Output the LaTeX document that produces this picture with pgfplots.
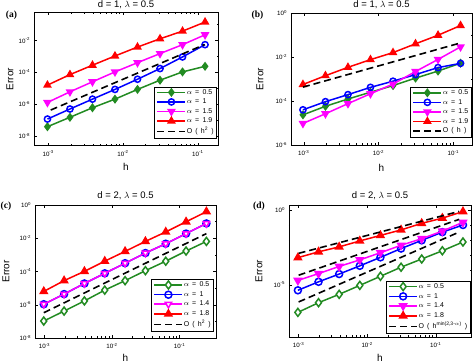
\documentclass[border=0pt]{standalone}
\usepackage{pgfplots}
\pgfplotsset{compat=1.18}
\usepackage{fontspec}
\setmainfont{Liberation Sans}
\newfontfamily\labelfont{Liberation Serif}
\definecolor{mgreen}{RGB}{34,139,34}
\definecolor{mmag}{RGB}{255,0,255}
\definecolor{mblue}{RGB}{0,0,255}
\definecolor{mred}{RGB}{255,0,0}
\newcommand{\ls}{\hspace{3.2pt}}
\tikzset{
  titlef/.style={font=\fontsize{9.5}{10}\selectfont},
  labf/.style={font=\fontsize{10}{11}\selectfont},
  panelf/.style={font=\labelfont\bfseries\fontsize{9.5}{10}\selectfont},
}
\pgfplotsset{
  myax/.style={
    scale only axis, clip mode=individual,
    anchor=south west,
    tick align=inside, major tick length=2.8pt, minor tick length=1.5pt,
    every tick/.style={black, line width=0.35pt},
    axis line style={line width=0.5pt, black},
    tick label style={font=\fontsize{6.2}{7}\selectfont},
    xtick={1e-3,1e-2,1e-1},
    xticklabels={10\textsuperscript{-3},10\textsuperscript{-2},10\textsuperscript{-1}},
    xticklabel style={yshift=-1.5pt},
    yticklabel style={xshift=-0.5pt},
    legend cell align=left,
    legend style={font=\fontsize{7}{7}\selectfont, draw=black, line width=0.4pt,
      inner xsep=2pt, inner ysep=1.8pt, row sep=2pt, anchor=south east,
      nodes={inner sep=0.6pt}},
    every axis plot post/.append style={
      legend image code/.code={\draw[mark repeat=2,mark phase=2] plot coordinates {(0pt,0pt) (14pt,0pt) (28pt,0pt)};}},
  },
  gfill/.style={color=mgreen, line width=1.5pt, mark=diamond*, mark size=3.4pt, mark options={solid, fill=mgreen}},
  gopen/.style={color=mgreen, line width=1.5pt, mark=diamond*, mark size=4pt, mark options={solid, fill=white}},
  bline/.style={color=mblue, line width=1.5pt, mark=o, mark size=3.1pt, mark options={solid, fill=white}},
  mline/.style={color=mmag, line width=1.5pt, mark=triangle*, mark size=3.6pt, mark options={solid, fill=mmag, rotate=180}},
  rline/.style={color=mred, line width=1.5pt, mark=triangle*, mark size=3.6pt, mark options={solid, fill=mred}},
  dline/.style={color=black, line width=1.6pt, dash pattern=on 7pt off 4pt, mark=none},
}
\begin{document}
\begin{tikzpicture}
\useasboundingbox (0,0) rectangle (474pt,363pt);

% ---------------- (a)
\begin{loglogaxis}[myax, at={(34pt,217.5pt)}, width=184pt, height=133pt,
  xmin=6.457e-4, xmax=0.1862, ymin=2.512e-9, ymax=0.5623,
  ytick={1e-8,1e-6,1e-4,1e-2},
  yticklabels={10\textsuperscript{-8},10\textsuperscript{-6},10\textsuperscript{-4},10\textsuperscript{-2}},
  minor ytick={1e-7,1e-5,1e-3,1e-1},
  legend style={at={(1,0)}, xshift=-1.5pt, yshift=7.5pt}]
\addplot[gfill] coordinates {(0.0009765625,3.80e-8) (0.001953125,1.479e-7) (0.00390625,5.89e-7) (0.0078125,2.042e-6) (0.015625,8.32e-6) (0.03125,3.162e-5) (0.0625,1.047e-4) (0.125,2.344e-4)};
\addlegendentry{$\alpha$\ls=\ls0.5}
\addplot[bline] coordinates {(0.0009765625,1.148e-7) (0.001953125,4.90e-7) (0.00390625,2.042e-6) (0.0078125,8.32e-6) (0.015625,3.63e-5) (0.03125,1.698e-4) (0.0625,9.12e-4) (0.125,5.37e-3)};
\addlegendentry{$\alpha$\ls=\ls1}
\addplot[mline] coordinates {(0.0009765625,1.259e-6) (0.001953125,5.89e-6) (0.00390625,2.512e-5) (0.0078125,1.047e-4) (0.015625,3.98e-4) (0.03125,1.479e-3) (0.0625,5.37e-3) (0.125,2.239e-2)};
\addlegendentry{$\alpha$\ls=\ls1.5}
\addplot[rline] coordinates {(0.0009765625,1.549e-5) (0.001953125,7.08e-5) (0.00390625,2.754e-4) (0.0078125,1.047e-3) (0.015625,3.80e-3) (0.03125,1.259e-2) (0.0625,3.80e-2) (0.125,0.1413)};
\addlegendentry{$\alpha$\ls=\ls1.9}
\addplot[dline] coordinates {(0.00108,4.22e-7) (0.1236,5.5e-3)};
\addlegendentry{O\ls(\ls h\textsuperscript{2}\ls)}
\node[titlef] at ([yshift=8pt]rel axis cs:0.5,1) {d = 1, $\lambda$ = 0.5};
\node[panelf] at ([xshift=-22.5pt,yshift=-2.5pt]rel axis cs:0,1) {(a)};
\node[labf, rotate=90] at ([xshift=-24pt]rel axis cs:0,0.5) {Error};
\node[labf] at ([yshift=-21.5pt]rel axis cs:0.5,0) {h};
\end{loglogaxis}

% ---------------- (b)
\begin{loglogaxis}[myax, at={(291pt,218pt)}, width=181pt, height=132pt,
  xmin=6.761e-4, xmax=0.1778, ymin=1e-6, ymax=1,
  ytick={1e-6,1e-4,1e-2,1},
  yticklabels={10\textsuperscript{-6},10\textsuperscript{-4},10\textsuperscript{-2},10\textsuperscript{0}},
  minor ytick={1e-5,1e-3,1e-1},
  legend style={at={(1,0)}, xshift=-1pt, yshift=8pt}]
\addplot[gfill] coordinates {(0.0009765625,2.344e-5) (0.001953125,5.75e-5) (0.00390625,1.230e-4) (0.0078125,2.512e-4) (0.015625,5.01e-4) (0.03125,1.096e-3) (0.0625,2.291e-3) (0.125,5.25e-3)};
\addlegendentry{$\alpha$\ls=\ls0.5}
\addplot[bline] coordinates {(0.0009765625,3.98e-5) (0.001953125,9.33e-5) (0.00390625,1.950e-4) (0.0078125,4.17e-4) (0.015625,7.94e-4) (0.03125,1.585e-3) (0.0625,3.31e-3) (0.125,5.13e-3)};
\addlegendentry{$\alpha$\ls=\ls1}
\addplot[mline] coordinates {(0.0009765625,9.55e-6) (0.001953125,2.63e-5) (0.00390625,7.59e-5) (0.0078125,2.138e-4) (0.015625,5.89e-4) (0.03125,2.188e-3) (0.0625,7.76e-3) (0.125,2.884e-2)};
\addlegendentry{$\alpha$\ls=\ls1.5}
\addplot[rline] coordinates {(0.0009765625,5.62e-4) (0.001953125,1.413e-3) (0.00390625,3.39e-3) (0.0078125,7.59e-3) (0.015625,1.585e-2) (0.03125,3.98e-2) (0.0625,9.77e-2) (0.125,0.2692)};
\addlegendentry{$\alpha$\ls=\ls1.9}
\addplot[dline] coordinates {(0.0009765625,4.27e-4) (0.125,4.365e-2)};
\addlegendentry{O\ls(\ls h\ls)}
\node[titlef] at ([yshift=8pt]rel axis cs:0.5,1) {d = 1, $\lambda$ = 0.5};
\node[panelf] at ([xshift=-33.5pt,yshift=-2pt]rel axis cs:0,1) {(b)};
\node[labf, rotate=90] at ([xshift=-31pt]rel axis cs:0,0.5) {Error};
\node[labf] at ([yshift=-23pt]rel axis cs:0.5,0) {h};
\end{loglogaxis}

% ---------------- (c)
\begin{loglogaxis}[myax, at={(35pt,25pt)}, width=181pt, height=133pt,
  xmin=7.244e-4, xmax=0.3467, ymin=1e-8, ymax=1,
  ytick={1e-8,1e-6,1e-4,1e-2,1},
  yticklabels={10\textsuperscript{-8},10\textsuperscript{-6},10\textsuperscript{-4},10\textsuperscript{-2},10\textsuperscript{0}},
  minor ytick={1e-7,1e-5,1e-3,1e-1},
  legend style={at={(1,0)}, xshift=-2.5pt, yshift=7pt}]
\addplot[gopen] coordinates {(0.0009765625,1.047e-7) (0.001953125,4.17e-7) (0.00390625,1.698e-6) (0.0078125,7.59e-6) (0.015625,2.818e-5) (0.03125,1.122e-4) (0.0625,4.17e-4) (0.125,1.698e-3) (0.25,6.46e-3)};
\addlegendentry{$\alpha$\ls=\ls0.5}
\addplot[bline, mark size=3.5pt] coordinates {(0.0009765625,1.072e-6) (0.001953125,4.365e-6) (0.00390625,1.905e-5) (0.0078125,7.76e-5) (0.015625,3.162e-4) (0.03125,1.288e-3) (0.0625,4.677e-3) (0.125,1.905e-2) (0.25,7.76e-2)};
\addlegendentry{$\alpha$\ls=\ls1}
\addplot[mline, mark options={solid, fill=white, rotate=180}] coordinates {(0.0009765625,1.072e-6) (0.001953125,4.365e-6) (0.00390625,1.905e-5) (0.0078125,7.76e-5) (0.015625,3.162e-4) (0.03125,1.288e-3) (0.0625,4.677e-3) (0.125,1.905e-2) (0.25,7.76e-2)};
\addlegendentry{$\alpha$\ls=\ls1.4}
\addplot[rline, mark size=4pt] coordinates {(0.0009765625,6.31e-6) (0.001953125,2.818e-5) (0.00390625,1.023e-4) (0.0078125,4.17e-4) (0.015625,1.622e-3) (0.03125,6.46e-3) (0.0625,2.399e-2) (0.125,9.77e-2) (0.25,0.398)};
\addlegendentry{$\alpha$\ls=\ls1.8}
\addplot[dline] coordinates {(0.0009765625,3.31e-7) (0.25,1.905e-2)};
\addlegendentry{O\ls(\ls h\textsuperscript{2}\ls)}
\node[titlef] at ([yshift=9pt]rel axis cs:0.5,1) {d = 2, $\lambda$ = 0.5};
\node[panelf] at ([xshift=-29pt,yshift=-1pt]rel axis cs:0,1) {(c)};
\node[labf, rotate=90] at ([xshift=-29pt]rel axis cs:0,0.5) {Error};
\node[labf] at ([yshift=-20pt]rel axis cs:0.5,0) {h};
\end{loglogaxis}

% ---------------- (d)
\begin{loglogaxis}[myax, at={(289pt,26pt)}, width=182pt, height=132pt,
  xmin=7.244e-4, xmax=0.3273, ymin=3.162e-9, ymax=2.239,
  ytick={1e-5,1},
  yticklabels={10\textsuperscript{-5},10\textsuperscript{0}},
  minor ytick={1e-8,1e-7,1e-6,1e-4,1e-3,1e-2,1e-1},
  legend style={at={(1,0)}, xshift=-1pt, yshift=4pt}]
\addplot[gopen] coordinates {(0.0009765625,1.413e-7) (0.001953125,6.31e-7) (0.00390625,2.291e-6) (0.0078125,9.12e-6) (0.015625,3.715e-5) (0.03125,1.514e-4) (0.0625,5.37e-4) (0.125,1.905e-3) (0.25,7.413e-3)};
\addlegendentry{$\alpha$\ls=\ls0.5}
\addplot[bline, mark size=3.5pt] coordinates {(0.0009765625,4.266e-6) (0.001953125,1.585e-5) (0.00390625,5.248e-5) (0.0078125,1.862e-4) (0.015625,6.918e-4) (0.03125,2.692e-3) (0.0625,9.55e-3) (0.125,3.388e-2) (0.25,0.1023)};
\addlegendentry{$\alpha$\ls=\ls1}
\addplot[mline, mark size=4pt] coordinates {(0.0009765625,1.950e-5) (0.001953125,5.62e-5) (0.00390625,1.698e-4) (0.0078125,4.677e-4) (0.015625,1.413e-3) (0.03125,4.467e-3) (0.0625,1.230e-2) (0.125,3.981e-2) (0.25,0.1549)};
\addlegendentry{$\alpha$\ls=\ls1.4}
\addplot[rline, mark size=4pt] coordinates {(0.0009765625,6.61e-4) (0.001953125,1.622e-3) (0.00390625,3.467e-3) (0.0078125,8.71e-3) (0.015625,2.042e-2) (0.03125,4.786e-2) (0.0625,0.1318) (0.125,0.2951) (0.25,0.8128)};
\addlegendentry{$\alpha$\ls=\ls1.8}
\addplot[dline] coordinates {(0.001,1.288e-3) (0.2198,0.832)};
\addlegendentry{O\ls(\ls h\textsuperscript{min(2,3-$\alpha$)}\ls)}
\addplot[dline, forget plot] coordinates {(0.001,4.365e-5) (0.2198,0.2438)};
\addplot[dline, forget plot] coordinates {(0.001,7.08e-7) (0.2198,3.42e-2)};
\node[titlef] at ([yshift=9pt]rel axis cs:0.5,1) {d = 2, $\lambda$ = 0.5};
\node[panelf] at ([xshift=-30pt,yshift=-1pt]rel axis cs:0,1) {(d)};
\node[labf, rotate=90] at ([xshift=-30pt]rel axis cs:0,0.5) {Error};
\node[labf] at ([yshift=-21pt]rel axis cs:0.5,0) {h};
\end{loglogaxis}
\end{tikzpicture}
\end{document}
